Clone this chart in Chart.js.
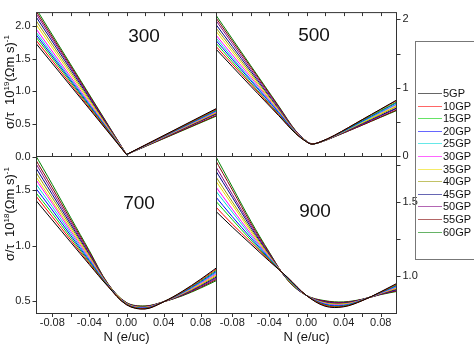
<!DOCTYPE html>
<html><head><meta charset="utf-8">
<script src="https://cdn.jsdelivr.net/npm/chart.js@4.4.1/dist/chart.umd.min.js"></script>
<style>
html,body{margin:0;padding:0;background:#fff;}
#wrap{position:relative;width:474px;height:344px;overflow:hidden;font-family:"Liberation Sans",Arial,sans-serif;color:#111;}
canvas{position:absolute;left:0;top:0;}
.lbl{position:absolute;font-size:19px;line-height:1;transform:translate(-50%,-50%);white-space:nowrap;}
.ytitle{position:absolute;font-size:13px;line-height:1;white-space:nowrap;transform:translate(-50%,-50%) rotate(-90deg);}
.ytitle sup{font-size:8px;vertical-align:5px;}
#legend{position:absolute;left:415px;top:41px;width:90px;height:219px;border:1px solid #777;box-sizing:border-box;}
.li{position:absolute;left:2px;height:12px;font-size:11px;line-height:12px;white-space:nowrap;}
.li span.sw{position:absolute;left:0;top:6px;width:24px;height:1px;}
.li span.tx{position:absolute;left:25px;top:0;}
</style></head>
<body>
<div id="wrap">
<canvas id="c300" width="474" height="344"></canvas>
<canvas id="c500" width="474" height="344"></canvas>
<canvas id="c700" width="474" height="344"></canvas>
<canvas id="c900" width="474" height="344"></canvas>
<div class="lbl" style="left:144px;top:35px">300</div>
<div class="lbl" style="left:314px;top:34px">500</div>
<div class="lbl" style="left:139px;top:202px">700</div>
<div class="lbl" style="left:315px;top:210px">900</div>
<div class="ytitle" style="left:9px;top:82px">σ/τ&nbsp; 10<sup>19</sup>(Ωm s)<sup>-1</sup></div>
<div class="ytitle" style="left:9px;top:214px">σ/τ&nbsp; 10<sup>18</sup>(Ωm s)<sup>-1</sup></div>
<div id="legend"></div>
</div>
<script>
// ---- data ----
const pressures = ['5GP','10GP','15GP','20GP','25GP','30GP','35GP','40GP','45GP','50GP','55GP','60GP'];
const seriesColors = ['#000000','#ff0000','#00d000','#0000ff','#00d8d8','#ff00ff','#eedd00','#999900','#000080','#800080','#800000','#008000'];

const x300 = [-0.1, 0, 0.1];
const y300 = [
 [1.78,0.03,0.76],[1.83,0.03,0.75],[1.88,0.03,0.74],[1.92,0.03,0.73],
 [1.96,0.03,0.72],[2.01,0.03,0.71],[2.08,0.03,0.70],[2.14,0.03,0.69],
 [2.20,0.03,0.68],[2.25,0.03,0.67],[2.29,0.03,0.65],[2.33,0.03,0.64]
];

const x500 = [-0.1,-0.06,-0.03,-0.012,0,0.006,0.015,0.03,0.06,0.1];
const y500 = [
 [1.60,1.02,0.59,0.330,0.205,0.172,0.205,0.300,0.53,0.84],
 [1.64,1.05,0.60,0.334,0.206,0.173,0.205,0.298,0.53,0.83],
 [1.69,1.07,0.61,0.338,0.207,0.173,0.204,0.296,0.52,0.81],
 [1.73,1.10,0.63,0.342,0.208,0.174,0.204,0.294,0.51,0.80],
 [1.77,1.12,0.64,0.346,0.209,0.174,0.203,0.292,0.50,0.78],
 [1.81,1.15,0.65,0.350,0.210,0.175,0.203,0.290,0.50,0.77],
 [1.87,1.18,0.66,0.354,0.211,0.175,0.202,0.288,0.49,0.75],
 [1.92,1.21,0.68,0.358,0.212,0.176,0.202,0.286,0.48,0.74],
 [1.97,1.24,0.69,0.362,0.213,0.176,0.201,0.284,0.47,0.72],
 [2.03,1.27,0.71,0.366,0.214,0.177,0.201,0.282,0.46,0.71],
 [2.07,1.30,0.72,0.370,0.215,0.177,0.200,0.280,0.45,0.69],
 [2.11,1.32,0.73,0.374,0.216,0.178,0.200,0.278,0.45,0.68]
];

const x700 = [-0.1,-0.08,-0.06,-0.04,-0.02,0,0.02,0.04,0.06,0.08,0.1];
const y700 = [
 [1.43,1.23,1.03,0.830,0.635,0.470,0.432,0.497,0.590,0.700,0.820],
 [1.47,1.26,1.05,0.841,0.637,0.472,0.435,0.497,0.586,0.693,0.809],
 [1.50,1.29,1.07,0.853,0.640,0.474,0.437,0.497,0.583,0.685,0.798],
 [1.54,1.32,1.09,0.864,0.642,0.475,0.440,0.497,0.579,0.678,0.787],
 [1.58,1.35,1.11,0.875,0.644,0.477,0.442,0.497,0.575,0.671,0.776],
 [1.62,1.38,1.13,0.887,0.646,0.479,0.445,0.497,0.572,0.664,0.765],
 [1.65,1.40,1.15,0.898,0.649,0.481,0.447,0.497,0.568,0.656,0.755],
 [1.69,1.43,1.17,0.910,0.651,0.483,0.450,0.497,0.565,0.649,0.744],
 [1.73,1.46,1.19,0.921,0.653,0.485,0.452,0.497,0.561,0.642,0.733],
 [1.77,1.49,1.21,0.932,0.655,0.486,0.455,0.497,0.557,0.635,0.722],
 [1.80,1.52,1.23,0.944,0.658,0.488,0.457,0.497,0.554,0.627,0.711],
 [1.84,1.55,1.25,0.955,0.660,0.490,0.460,0.497,0.550,0.620,0.700]
];

const x900 = [-0.1,-0.08,-0.06,-0.04,-0.02,0,0.02,0.04,0.06,0.08,0.1];
const y900 = [
 [1.45,1.33,1.215,1.100,0.990,0.87,0.798,0.794,0.835,0.895,0.960],
 [1.48,1.35,1.229,1.105,0.988,0.87,0.803,0.796,0.836,0.893,0.955],
 [1.52,1.38,1.243,1.111,0.986,0.87,0.806,0.799,0.837,0.892,0.949],
 [1.55,1.40,1.257,1.116,0.985,0.87,0.810,0.802,0.838,0.890,0.944],
 [1.59,1.43,1.271,1.122,0.983,0.87,0.813,0.805,0.839,0.888,0.938],
 [1.62,1.45,1.285,1.127,0.981,0.87,0.816,0.808,0.840,0.886,0.933],
 [1.66,1.48,1.300,1.133,0.979,0.87,0.819,0.812,0.840,0.885,0.927],
 [1.69,1.50,1.314,1.138,0.977,0.87,0.822,0.815,0.841,0.883,0.922],
 [1.73,1.53,1.328,1.144,0.975,0.87,0.825,0.818,0.842,0.881,0.916],
 [1.76,1.55,1.342,1.149,0.974,0.87,0.829,0.821,0.843,0.879,0.911],
 [1.80,1.58,1.356,1.155,0.972,0.87,0.832,0.824,0.844,0.878,0.905],
 [1.83,1.60,1.370,1.160,0.970,0.87,0.835,0.827,0.845,0.876,0.900]
];

// tick values
const xTickMarks = [-0.08,-0.06,-0.04,-0.02,0,0.02,0.04,0.06,0.08];
const xTickLabels = [-0.08,-0.04,0,0.04,0.08];
const yLabels300 = [0,0.5,1,1.5,2];
const yMarks500 = [0,0.5,1,1.5,2];
const yLabels500 = [0,1,2];
const yLabels700 = [0.5,1,1.5];
const yMarks900 = [1,1.25,1.5,1.75];
const yLabels900 = [1,1.5];

// ---- frame / tick plugin ----
const framePlugin = {
  id: 'frame',
  afterDraw(chart, args, o) {
    const ctx = chart.ctx, a = chart.chartArea;
    const xs = chart.scales.x, ys = chart.scales.y;
    ctx.save();
    ctx.strokeStyle = '#333';
    ctx.lineWidth = 1;
    ctx.strokeRect(a.left, a.top, a.right - a.left, a.bottom - a.top);
    ctx.beginPath();
    const L = 3.5;
    (o.top || []).forEach(v => { const p = Math.round(xs.getPixelForValue(v)) + 0.5; ctx.moveTo(p, a.top); ctx.lineTo(p, a.top + L); });
    (o.bottomIn || []).forEach(v => { const p = Math.round(xs.getPixelForValue(v)) + 0.5; ctx.moveTo(p, a.bottom); ctx.lineTo(p, a.bottom - L); });
    (o.bottomOut || []).forEach(v => { const p = Math.round(xs.getPixelForValue(v)) + 0.5; ctx.moveTo(p, a.bottom); ctx.lineTo(p, a.bottom + L); });
    (o.leftOut || []).forEach(v => { const p = Math.round(ys.getPixelForValue(v)) + 0.5; ctx.moveTo(a.left, p); ctx.lineTo(a.left - 4, p); });
    (o.rightOut || []).forEach(v => { const p = Math.round(ys.getPixelForValue(v)) + 0.5; ctx.moveTo(a.right, p); ctx.lineTo(a.right + 4, p); });
    ctx.stroke();
    ctx.restore();
  }
};

const tickFont = {family: '"Liberation Sans", Arial, sans-serif', size: 11};

function makePanel(id, xs, ys, cfg) {
  const datasets = ys.map((row, i) => ({
    label: pressures[i],
    data: row.map((v, j) => ({x: xs[j], y: v})),
    borderColor: seriesColors[i],
    borderWidth: 1,
    pointRadius: 0,
    fill: false,
    tension: cfg.tension
  }));
  const xScale = {
    type: 'linear', min: -0.097, max: 0.097,
    display: cfg.xDisplay,
    grid: {display: false, drawTicks: false}, border: {display: false},
    ticks: {font: tickFont, color: '#222', padding: 3, autoSkip: false, maxRotation: 0,
      callback: v => Number(v).toFixed(2)},
    afterBuildTicks: s => { s.ticks = xTickLabels.map(v => ({value: v})); },
    afterFit: s => { s.height = cfg.xDisplay ? 30.5 : 0; },
    title: {display: cfg.xDisplay, text: 'N (e/uc)', font: {family: '"Liberation Sans", Arial, sans-serif', size: 13}, color: '#111', padding: {top: 0, bottom: -1}}
  };
  const yScale = {
    type: 'linear', position: cfg.yPos, min: cfg.ymin, max: cfg.ymax,
    grid: {display: false, drawTicks: false}, border: {display: false},
    ticks: {font: tickFont, color: '#222', padding: 6, autoSkip: false,
      callback: cfg.yFmt},
    afterBuildTicks: s => { s.ticks = cfg.yLabels.map(v => ({value: v})); },
    afterFit: s => { s.width = cfg.yWidth; }
  };
  return new Chart(document.getElementById(id), {
    type: 'line',
    data: {datasets},
    options: {
      responsive: false, animation: false, devicePixelRatio: 1, events: [],
      layout: {padding: cfg.pad},
      plugins: {legend: {display: false}, tooltip: {enabled: false}, frame: cfg.frame},
      scales: {x: xScale, y: yScale}
    },
    plugins: [framePlugin]
  });
}

// panel geometry (pixels)
const XL = 36.5, XM = 216.5, XR = 396.5, YT = 0.5, YM = 156.5, YB = 313.5;

makePanel('c300', x300, y300, {
  tension: 0, xDisplay: false, yPos: 'left', ymin: 0, ymax: 2.21, yLabels: yLabels300,
  yFmt: v => Number(v).toFixed(1), yWidth: XL,
  pad: {left: 0, top: YT, right: 474 - XM, bottom: 344 - YM},
  frame: {top: xTickMarks, bottomIn: xTickMarks, leftOut: yLabels300}
});
makePanel('c500', x500, y500, {
  tension: 0.35, xDisplay: false, yPos: 'right', ymin: -0.01, ymax: 2.1, yLabels: yLabels500,
  yFmt: v => String(v), yWidth: 40,
  pad: {left: XM, top: YT, right: 474 - XR - 40, bottom: 344 - YM},
  frame: {top: xTickMarks, bottomIn: xTickMarks, rightOut: yMarks500}
});
makePanel('c700', x700, y700, {
  tension: 0.35, xDisplay: true, yPos: 'left', ymin: 0.392, ymax: 1.80, yLabels: yLabels700,
  yFmt: v => Number(v).toFixed(1), yWidth: XL,
  pad: {left: 0, top: YM, right: 474 - XM, bottom: 344 - YB - 30.5},
  frame: {bottomOut: xTickMarks, leftOut: yLabels700}
});
makePanel('c900', x900, y900, {
  tension: 0.35, xDisplay: true, yPos: 'right', ymin: 0.749, ymax: 1.804, yLabels: yLabels900,
  yFmt: v => Number(v).toFixed(1), yWidth: 40,
  pad: {left: XM, top: YM, right: 474 - XR - 40, bottom: 344 - YB - 30.5},
  frame: {bottomOut: xTickMarks, rightOut: yMarks900}
});

// legend
const lg = document.getElementById('legend');
pressures.forEach((p, i) => {
  const d = document.createElement('div');
  d.className = 'li';
  d.style.top = (45 + i * 12.6) + 'px';
  d.innerHTML = '<span class="sw" style="background:' + seriesColors[i] + ';opacity:0.6"></span><span class="tx">' + p + '</span>';
  lg.appendChild(d);
});
</script>
</body></html>
